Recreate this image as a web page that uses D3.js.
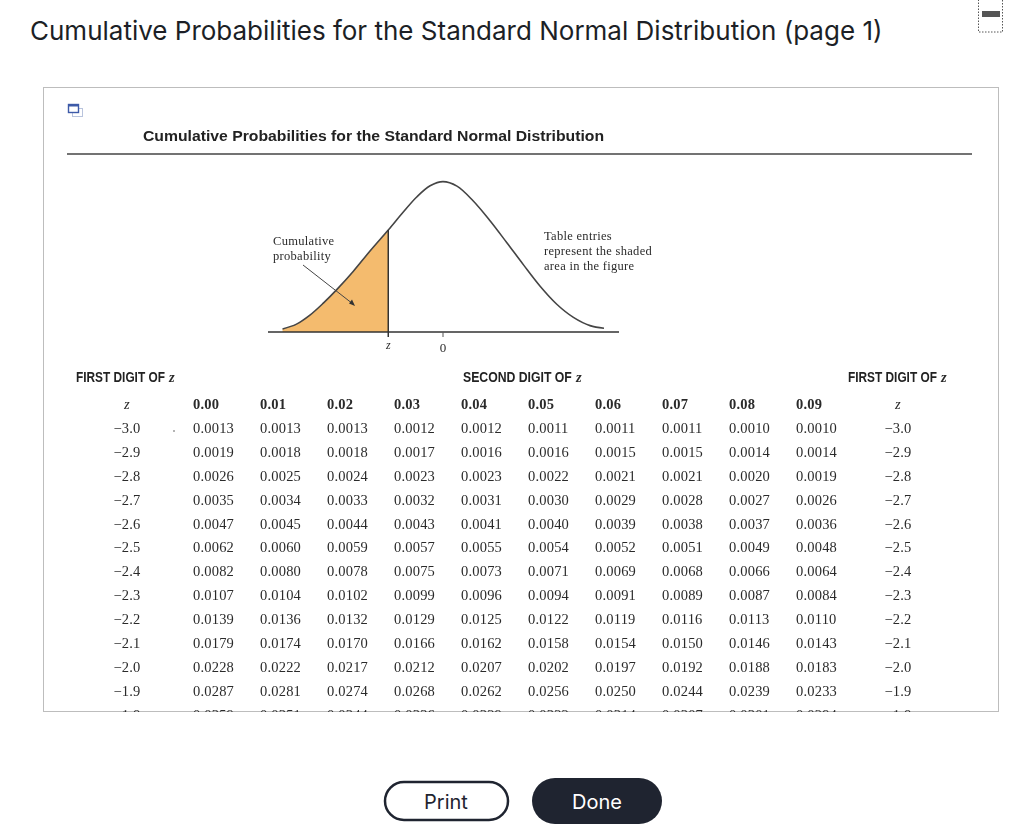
<!DOCTYPE html>
<html>
<head>
<meta charset="utf-8">
<script src="https://cdn.jsdelivr.net/npm/d3@7"></script>
<style>
  html, body { margin: 0; padding: 0; background: #fff; }
  svg { display: block; }
  .serif { font-family: "Liberation Serif", serif; fill: #2b2b2b; }
  .head { font-family: "Liberation Sans", sans-serif; font-weight: 700; font-size: 14.5px; fill: #222; }
</style>
</head>
<body>
<div id="chart"></div>
<script>
const secondDigits = ["0.00", "0.01", "0.02", "0.03", "0.04", "0.05", "0.06", "0.07", "0.08", "0.09"];
const zLabels = ["−3.0", "−2.9", "−2.8", "−2.7", "−2.6", "−2.5", "−2.4", "−2.3", "−2.2", "−2.1", "−2.0", "−1.9", "−1.8"];

const row30 = ["0.0013", "0.0013", "0.0013", "0.0012", "0.0012", "0.0011", "0.0011", "0.0011", "0.0010", "0.0010"];
const row29 = ["0.0019", "0.0018", "0.0018", "0.0017", "0.0016", "0.0016", "0.0015", "0.0015", "0.0014", "0.0014"];
const row28 = ["0.0026", "0.0025", "0.0024", "0.0023", "0.0023", "0.0022", "0.0021", "0.0021", "0.0020", "0.0019"];
const row27 = ["0.0035", "0.0034", "0.0033", "0.0032", "0.0031", "0.0030", "0.0029", "0.0028", "0.0027", "0.0026"];
const row26 = ["0.0047", "0.0045", "0.0044", "0.0043", "0.0041", "0.0040", "0.0039", "0.0038", "0.0037", "0.0036"];
const row25 = ["0.0062", "0.0060", "0.0059", "0.0057", "0.0055", "0.0054", "0.0052", "0.0051", "0.0049", "0.0048"];
const row24 = ["0.0082", "0.0080", "0.0078", "0.0075", "0.0073", "0.0071", "0.0069", "0.0068", "0.0066", "0.0064"];
const row23 = ["0.0107", "0.0104", "0.0102", "0.0099", "0.0096", "0.0094", "0.0091", "0.0089", "0.0087", "0.0084"];
const row22 = ["0.0139", "0.0136", "0.0132", "0.0129", "0.0125", "0.0122", "0.0119", "0.0116", "0.0113", "0.0110"];
const row21 = ["0.0179", "0.0174", "0.0170", "0.0166", "0.0162", "0.0158", "0.0154", "0.0150", "0.0146", "0.0143"];
const row20 = ["0.0228", "0.0222", "0.0217", "0.0212", "0.0207", "0.0202", "0.0197", "0.0192", "0.0188", "0.0183"];
const row19 = ["0.0287", "0.0281", "0.0274", "0.0268", "0.0262", "0.0256", "0.0250", "0.0244", "0.0239", "0.0233"];
const row18 = ["0.0359", "0.0351", "0.0344", "0.0336", "0.0329", "0.0322", "0.0314", "0.0307", "0.0301", "0.0294"];
const tableRows = [row30, row29, row28, row27, row26, row25, row24, row23, row22, row21, row20, row19, row18];

// curve
const curveZ = [-2.99, -2.73, -2.48, -2.23, -1.98, -1.67, -1.36, -1.02, -0.74, -0.49, -0.24, 0, 0.26, 0.56, 0.88, 1.19, 1.50, 1.81, 2.12, 2.43, 2.74, 3.0];
const curveDensity = [0.008, 0.021, 0.045, 0.077, 0.113, 0.162, 0.216, 0.272, 0.320, 0.360, 0.390, 0.401, 0.389, 0.350, 0.296, 0.238, 0.179, 0.122, 0.074, 0.039, 0.017, 0.010];
const shadedTo = -1.02;

const width = 1024;
const height = 835;

const svg = d3.select("#chart")
    .append("svg")
    .attr("width", width)
    .attr("height", height);

const x = d3.scaleLinear().domain([-3, 3]).range([282, 604]);
const y = d3.scaleLinear().domain([0, 0.4]).range([332, 182]);

const defs = svg.append("defs");
defs.append("clipPath").attr("id", "panel-clip")
    .append("rect").attr("x", 44).attr("y", 88).attr("width", 954).attr("height", 623.5);
defs.append("clipPath").attr("id", "shade-clip")
    .append("rect").attr("x", x(-3)).attr("y", y(0.4)).attr("width", x(shadedTo) - x(-3)).attr("height", y(0) - y(0.4));
defs.append("filter").attr("id", "soft")
    .append("feGaussianBlur").attr("stdDeviation", 0.35);

// page title
svg.append("text")
    .attr("x", 30).attr("y", 40)
    .attr("font-family", "Inter, 'Liberation Sans', sans-serif")
    .attr("font-size", 26)
    .attr("fill", "#1c1f26")
    .text("Cumulative Probabilities for the Standard Normal Distribution (page 1)");

// minimise button top right
svg.append("rect")
    .attr("x", 978.5).attr("y", -3).attr("width", 24).attr("height", 35)
    .attr("fill", "none").attr("stroke", "#555").attr("stroke-dasharray", "1.5 1.5");
svg.append("rect")
    .attr("x", 982).attr("y", 11).attr("width", 18).attr("height", 6)
    .attr("fill", "#555");

// panel
svg.append("rect")
    .attr("x", 43.5).attr("y", 87.5).attr("width", 955).attr("height", 624)
    .attr("fill", "#fff").attr("stroke", "#bdbdbd");

// copy icon
svg.append("rect")
    .attr("x", 72.5).attr("y", 108.5).attr("width", 10).attr("height", 8)
    .attr("fill", "#fff").attr("stroke", "#b9c4dd");
svg.append("rect")
    .attr("x", 68.5).attr("y", 104.5).attr("width", 10).attr("height", 8)
    .attr("fill", "#fff").attr("stroke", "#3d5aa8").attr("stroke-width", 1.4);
svg.append("rect")
    .attr("x", 68).attr("y", 104).attr("width", 11).attr("height", 2.5)
    .attr("fill", "#3d5aa8");

const panel = svg.append("g")
    .attr("clip-path", "url(#panel-clip)")
    .append("g")
    .attr("filter", "url(#soft)");

panel.append("text")
    .attr("x", 143).attr("y", 141)
    .attr("font-family", "'Liberation Sans', sans-serif")
    .attr("font-weight", 700)
    .attr("font-size", 14.5)
    .attr("fill", "#222")
    .attr("textLength", 461)
    .attr("lengthAdjust", "spacingAndGlyphs")
    .text("Cumulative Probabilities for the Standard Normal Distribution");

panel.append("line")
    .attr("x1", 67).attr("x2", 972).attr("y1", 154).attr("y2", 154)
    .attr("stroke", "#444").attr("stroke-width", 1.4);

// normal curve figure
const curvePoints = curveZ.map((z, i) => ({ z, d: curveDensity[i] }));

const line = d3.line()
    .x(d => x(d.z))
    .y(d => y(d.d))
    .curve(d3.curveCatmullRom);

const area = d3.area()
    .x(d => x(d.z))
    .y0(y(0))
    .y1(d => y(d.d))
    .curve(d3.curveCatmullRom);

panel.append("path")
    .datum(curvePoints)
    .attr("d", area)
    .attr("clip-path", "url(#shade-clip)")
    .attr("fill", "#f4bb6e");

panel.append("path")
    .datum(curvePoints)
    .attr("d", line)
    .attr("fill", "none")
    .attr("stroke", "#444")
    .attr("stroke-width", 1.6);

panel.append("line")
    .attr("x1", 268).attr("x2", 619).attr("y1", y(0)).attr("y2", y(0))
    .attr("stroke", "#333").attr("stroke-width", 1.4);

panel.append("line")
    .attr("x1", x(shadedTo)).attr("x2", x(shadedTo))
    .attr("y1", y(curveDensity[curveZ.indexOf(shadedTo)])).attr("y2", y(0) + 5)
    .attr("stroke", "#333").attr("stroke-width", 1.5);

panel.append("line")
    .attr("x1", x(0)).attr("x2", x(0)).attr("y1", y(0)).attr("y2", y(0) + 5)
    .attr("stroke", "#555").attr("stroke-width", 1);

panel.append("line")
    .attr("x1", 303).attr("y1", 265).attr("x2", 353).attr("y2", 304)
    .attr("stroke", "#444").attr("stroke-width", 1);
panel.append("path")
    .attr("d", "M355,306 L349,303.5 L352,299.5 Z")
    .attr("fill", "#333");

panel.append("text").attr("class", "serif")
    .attr("x", x(shadedTo)).attr("y", 349).attr("text-anchor", "middle")
    .attr("font-size", 12).attr("font-style", "italic").text("z");
panel.append("text").attr("class", "serif")
    .attr("x", x(0)).attr("y", 352).attr("text-anchor", "middle")
    .attr("font-size", 13).text("0");

const noteStyle = sel => sel.attr("class", "serif").attr("font-size", 12.5).attr("letter-spacing", 0.3);
[["Cumulative", 273, 245], ["probability", 273, 260],
 ["Table entries", 544, 240], ["represent the shaded", 544, 255], ["area in the figure", 544, 270]]
    .forEach(([t, tx, ty]) => {
        panel.append("text").call(noteStyle).attr("x", tx).attr("y", ty).text(t);
    });

// table headers, squeezed sideways to look condensed
[["FIRST DIGIT OF", 76, 89], ["SECOND DIGIT OF", 463, 109], ["FIRST DIGIT OF", 848, 89]].forEach(([t, tx, tw]) => {
    const head = panel.append("text").attr("class", "head").text(t);
    const sx = tw / head.node().getComputedTextLength();
    head.attr("transform", `translate(${tx},381.5) scale(${sx},1)`);
    panel.append("text").attr("class", "serif")
        .attr("x", tx + tw + 4).attr("y", 381.5)
        .attr("font-size", 14.5)
        .attr("font-weight", 700)
        .attr("font-style", "italic")
        .text("z");
});

// table body
const colX = d3.scalePoint().domain(secondDigits).range([193, 796]);
const rowY = d3.scalePoint().domain(zLabels).range([428, 714.5]);
const headerY = 404;

const cellText = sel => sel.attr("class", "serif").attr("font-size", 14.5).attr("letter-spacing", 0.2).attr("dy", "0.35em");

panel.append("g").selectAll("text")
    .data(secondDigits)
    .join("text")
    .call(cellText)
    .attr("x", d => colX(d))
    .attr("y", headerY)
    .attr("font-weight", 700)
    .text(d => d);

[127, 898].forEach(cx => {
    panel.append("text").call(cellText)
        .attr("x", cx).attr("y", headerY)
        .attr("text-anchor", "middle")
        .attr("font-style", "italic")
        .text("z");

    panel.append("g").selectAll("text")
        .data(zLabels)
        .join("text")
        .call(cellText)
        .attr("x", cx)
        .attr("y", d => rowY(d))
        .attr("text-anchor", "middle")
        .text(d => d);
});

const rows = panel.append("g").selectAll("g")
    .data(tableRows)
    .join("g")
    .attr("transform", (d, i) => `translate(0,${rowY(zLabels[i])})`);

rows.selectAll("text")
    .data(d => d)
    .join("text")
    .call(cellText)
    .attr("x", (d, i) => colX(secondDigits[i]))
    .text(d => d);

// stray speck in the scan
panel.append("circle").attr("cx", 174).attr("cy", 431).attr("r", 0.8).attr("fill", "#555");

// buttons
const buttonFont = "Inter, 'Liberation Sans', sans-serif";
svg.append("rect")
    .attr("x", 385).attr("y", 782).attr("width", 123).attr("height", 38).attr("rx", 19)
    .attr("fill", "#fff").attr("stroke", "#1f2430").attr("stroke-width", 2.5);
svg.append("text")
    .attr("x", 446).attr("y", 809).attr("text-anchor", "middle")
    .attr("font-family", buttonFont).attr("font-size", 20).attr("fill", "#1f2430")
    .text("Print");
svg.append("rect")
    .attr("x", 532).attr("y", 778).attr("width", 130).attr("height", 46).attr("rx", 23)
    .attr("fill", "#1f2430");
svg.append("text")
    .attr("x", 597).attr("y", 809).attr("text-anchor", "middle")
    .attr("font-family", buttonFont).attr("font-size", 20).attr("fill", "#fff")
    .text("Done");
</script>
</body>
</html>
